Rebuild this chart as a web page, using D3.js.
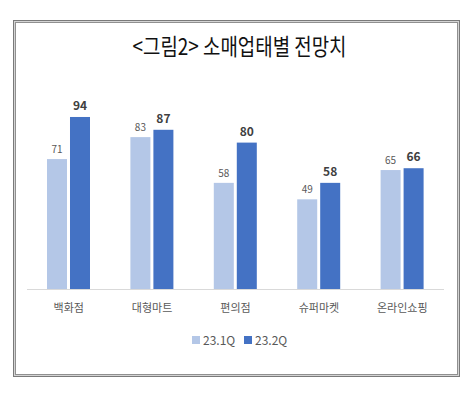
<!DOCTYPE html>
<html><head><meta charset="utf-8">
<script src="https://cdn.jsdelivr.net/npm/d3@7"></script>
<style>body{margin:0;background:#fff}svg{display:block}</style>
</head><body>
<svg id="c" width="474" height="395"></svg>
<script>
const categories = ["백화점","대형마트","편의점","슈퍼마켓","온라인쇼핑"];
const series1Name = "23.1Q";
const series2Name = "23.2Q";
const series1 = [71,83,58,49,65];
const series2 = [94,87,80,58,66];
const titleText = "<그림2> 소매업태별 전망치";

const svg = d3.select("#c");
const font = "'Noto Sans CJK KR','Noto Sans',sans-serif";

// frame
svg.append("rect").attr("x",13.5).attr("y",20.5).attr("width",446).attr("height",356).attr("fill","none").attr("stroke","#7a7a7a").attr("stroke-width",1);
svg.append("rect").attr("x",14.5).attr("y",21.5).attr("width",444).attr("height",354).attr("fill","none").attr("stroke","#d4d4d4").attr("stroke-width",1);
svg.append("rect").attr("x",15.5).attr("y",22.5).attr("width",442).attr("height",352).attr("fill","none").attr("stroke","#909090").attr("stroke-width",1);

// title
svg.append("text").attr("x",239.5).attr("y",55).attr("text-anchor","middle")
  .attr("font-family",font).attr("font-size",23).attr("fill","#111")
  .attr("textLength",214).attr("lengthAdjust","spacingAndGlyphs")
  .text(titleText);

const x0 = d3.scaleBand().domain(categories).range([27,444]).paddingInner(0).paddingOuter(0);
const x1 = d3.scaleBand().domain([0,1]).range([20,63]).paddingInner(0.13);
const y = d3.scaleLinear().domain([0,100]).range([289,106]);

// axis baseline
svg.append("line").attr("x1",27).attr("x2",444).attr("y1",289.5).attr("y2",289.5).attr("stroke","#d9d9d9");

const colors = ["#b4c7e7","#4472c4"];
const data = categories.map((c,i)=>({c, v:[series1[i], series2[i]]}));
const g = svg.append("g");
data.forEach(d=>{
  d.v.forEach((v,j)=>{
    const bx = x0(d.c)+x1(j);
    g.append("rect").attr("x",bx).attr("y",y(v)).attr("width",x1.bandwidth()).attr("height",289-y(v)).attr("fill",colors[j]);
    g.append("text").attr("x",bx+x1.bandwidth()/2).attr("y",y(v)-(j?7:6))
      .attr("text-anchor","middle").attr("font-family",font)
      .attr("font-size", j?12:10).attr("font-weight", j?"bold":"normal")
      .attr("fill", j?"#404040":"#595959").text(v);
  });
});

// category axis labels
const xAxis = d3.axisBottom(x0).tickSize(0).tickPadding(0);
const ax = svg.append("g").attr("transform","translate(0,304)").call(xAxis);
ax.select(".domain").remove();
ax.selectAll("text").attr("font-family",font).attr("font-size",11).attr("fill","#595959").attr("dy","0.71em");

// legend
const leg = svg.append("g");
const legItems = [[series1Name,colors[0],192],[series2Name,colors[1],244]];
legItems.forEach(([t,c,lx])=>{
  leg.append("rect").attr("x",lx).attr("y",336).attr("width",8).attr("height",8).attr("fill",c);
  leg.append("text").attr("x",lx+11).attr("y",344.5).attr("font-family",font).attr("font-size",12).attr("fill","#595959").text(t);
});
</script>
</body></html>
